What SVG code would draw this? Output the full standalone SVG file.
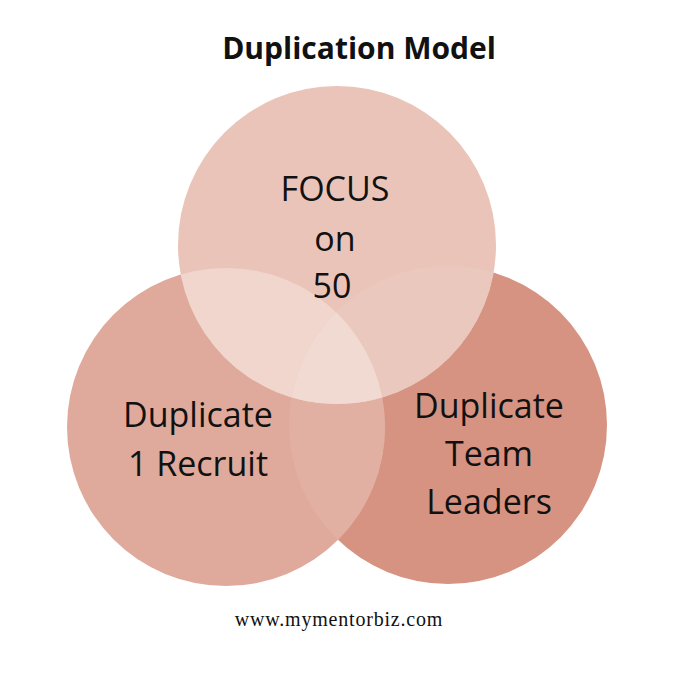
<svg xmlns="http://www.w3.org/2000/svg" width="675" height="675" viewBox="0 0 675 675">
<style>
.lbl{font-family:"Open Sans","DejaVu Sans",sans-serif;font-size:34px;fill:#111;text-anchor:middle}
</style>
<defs>
<clipPath id="cL"><circle cx="226" cy="427" r="159"/></clipPath>
<clipPath id="cR"><circle cx="448" cy="425" r="159"/></clipPath>
</defs>
<rect width="675" height="675" fill="#fff"/>
<text x="359" y="59" font-family="Open Sans, DejaVu Sans, sans-serif" font-weight="bold" font-size="30" text-anchor="middle" fill="#111">Duplication Model</text>
<g id="right"><circle cx="448" cy="425" r="159" fill="#d69381"/></g>
<g id="left"><circle cx="226" cy="427" r="159" fill="#dfaa9b"/></g>
<g id="top"><circle cx="337" cy="245" r="159" fill="#eac4b8"/></g>
<g id="overlaps">
<circle cx="448" cy="425" r="159" fill="#e1b0a2" clip-path="url(#cL)"/>
<circle cx="337" cy="245" r="159" fill="#f0d6cd" clip-path="url(#cL)"/>
<circle cx="337" cy="245" r="159" fill="#eac8bd" clip-path="url(#cR)"/>
<g clip-path="url(#cL)"><circle cx="337" cy="245" r="159" fill="#f1dad2" clip-path="url(#cR)"/></g>
</g>
<text class="lbl" x="335" y="201">FOCUS</text>
<text class="lbl" x="335" y="251">on</text>
<text class="lbl" x="332" y="298">50</text>
<text class="lbl" x="198" y="427">Duplicate</text>
<text class="lbl" x="198" y="476">1 Recruit</text>
<text class="lbl" x="489" y="418">Duplicate</text>
<text class="lbl" x="489" y="466">Team</text>
<text class="lbl" x="489" y="514">Leaders</text>
<text x="339" y="626" font-family="Liberation Serif, serif" font-size="20" letter-spacing="0.8" text-anchor="middle" fill="#111">www.mymentorbiz.com</text>
</svg>
